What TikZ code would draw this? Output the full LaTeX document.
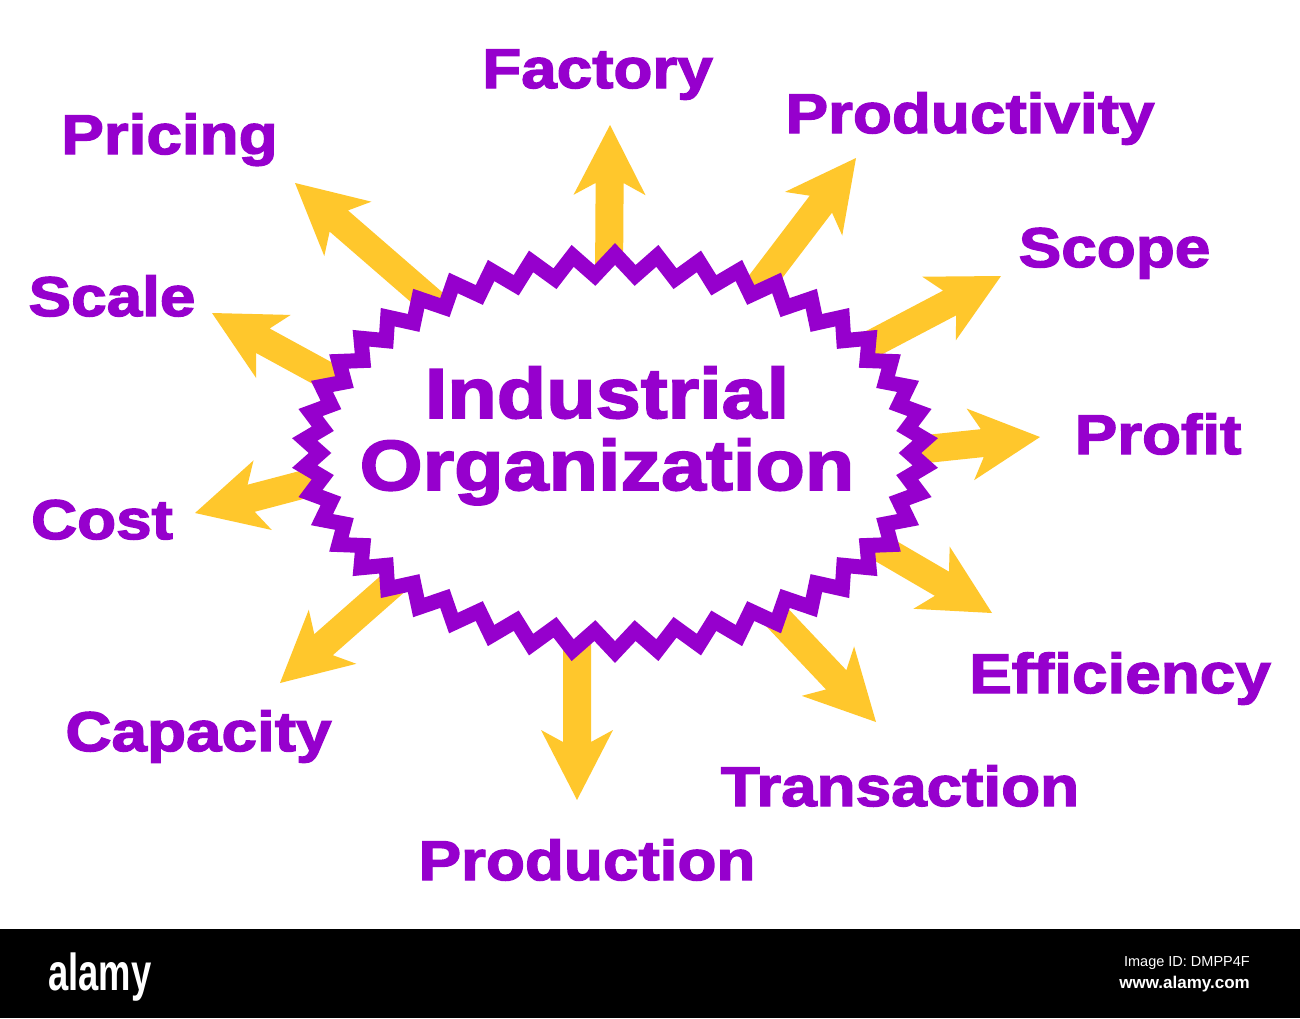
\documentclass[tikz,border=0pt]{standalone}
\usepackage{fontspec}
\newfontfamily\labfont{Liberation Sans}[FakeStretch=1.14,FakeBold=2.5]
\newfontfamily\wmbig{Liberation Sans}[FakeStretch=0.70]
\newfontfamily\wmsmall{Liberation Sans}
\definecolor{purp}{RGB}{150,0,205}
\definecolor{gold}{RGB}{255,199,44}
\tikzset{
  lab/.style={text=purp, font=\labfont\bfseries\fontsize{56}{60}\selectfont, inner sep=0pt, anchor=base},
  title/.style={text=purp, font=\labfont\bfseries\fontsize{71}{76}\selectfont, inner sep=0pt, anchor=base},
  burst/.style={draw=purp, line width=15pt, fill=white, line join=miter, miter limit=20},
  arrowfill/.style={fill=gold},
}
\begin{document}
\begin{tikzpicture}[x=1pt,y=-1pt]
\useasboundingbox (0,0) rectangle (1300,1018);
\fill[white] (0,0) rectangle (1300,929);
% arrows (behind the burst)
\foreach \sx/\sy/\tx/\ty in {
  609/280/610/125,
  735/317/856/158,
  824/369/1001/276,
  841/458/1040/437,
  819/512/992/613,
  739/577/876/722,
  577/600/577/800,
  430/551/280/683,
  389/462/195/513,
  388/409/212/313,
  446/314/295/183}{
  \pgfmathsetmacro\ang{-atan2(\ty-\sy,\tx-\sx)}
  \pgfmathsetmacro\len{veclen(\tx-\sx,\ty-\sy)}
  \fill[arrowfill, shift={(\sx,\sy)}, rotate=\ang]
    (0,14) -- (\len-58,14) -- (\len-70,36) -- (\len,0) -- (\len-70,-36) -- (\len-58,-14) -- (0,-14) -- cycle;
}
% burst
\coordinate (c) at (615,453);
\draw[burst] (615,254)
  \foreach \k in {1,...,91}{
    -- ({615+(303+8*cos(mod(\k,2)*180))*cos(90+\k*3.913043)},{453-(188.5+10.5*cos(mod(\k,2)*180))*sin(90+\k*3.913043)})
  } -- cycle;
% title
\node[title] (ind) at (607,418) {Industrial};
\node[title] (org) at (607,490) {Organization};
% labels
\node[lab] (factory) at (597.5,88) {Factory};
\node[lab] (productivity) at (970,133) {Productivity};
\node[lab] (scope) at (1114.5,267) {Scope};
\node[lab] (profit) at (1158,454) {Profit};
\node[lab] (efficiency) at (1120,693) {Efficiency};
\node[lab] (transaction) at (900,806) {Transaction};
\node[lab] (production) at (587,880) {Production};
\node[lab] (capacity) at (198.5,751) {Capacity};
\node[lab] (cost) at (102,539) {Cost};
\node[lab] (scale) at (112,316) {Scale};
\node[lab] (pricing) at (169.5,154) {Pricing};
% bottom bar
\fill[black] (0,929) rectangle (1300,1018);
\node[text=white, font=\wmbig\bfseries\fontsize{52}{56}\selectfont, inner sep=0pt, anchor=base west] (alamy) at (48,990) {alamy};
\node[text=white, font=\wmsmall\fontsize{14.5}{16}\selectfont, inner sep=0pt, anchor=base east] (imgid) at (1250,966) {Image ID: DMPP4F};
\node[text=white, font=\wmsmall\bfseries\fontsize{17}{19}\selectfont, inner sep=0pt, anchor=base east] (www) at (1250,988) {www.alamy.com};
\end{tikzpicture}
\end{document}
